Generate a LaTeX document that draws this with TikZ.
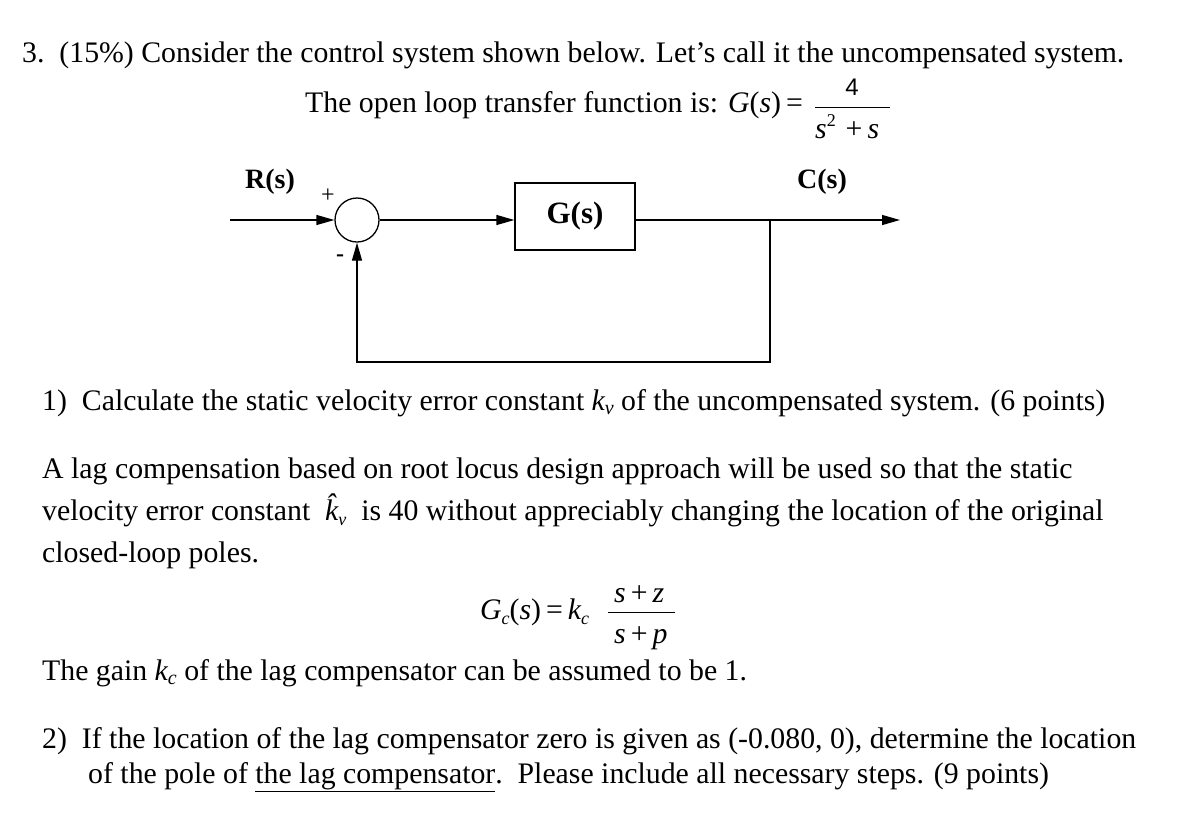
\documentclass[tikz,border=0pt]{standalone}
\usepackage{fontspec}
\setmainfont{Liberation Serif}
\newfontfamily\arialf{Liberation Sans}
\usetikzlibrary{arrows.meta}
\newcommand{\mi}[1]{{\itshape #1}}
\begin{document}
\begin{tikzpicture}[x=1pt,y=-1pt,
  txt/.style={anchor=base west,inner sep=0pt,font=\fontsize{29.8}{34}\selectfont},
  lbl/.style={inner sep=0pt,font=\fontsize{28}{30}\selectfont\bfseries},
  sig/.style={line width=1.3pt},
  arr/.style={sig,-{Triangle[length=18pt,width=10pt]}}]
\useasboundingbox (0,0) rectangle (1193,828);
\node[txt] (t1) at (22,62) {3.\ \ (15\%) Consider the control system shown below. Let’s call it the uncompensated system.};
\node[txt] (t2) at (305,112) {The open loop transfer function is: \mi{G}(\mi{s})\,=};
\node[inner sep=0pt,font=\arialf\fontsize{24}{28}\selectfont] (num) at (852,87) {4};
\draw[line width=0.8pt] (815,107) -- (890,107);
\node[txt] (den) at (815,138) {\mi{s}\raisebox{12pt}{\fontsize{18}{20}\selectfont 2}\,\,+\,\mi{s}};
% block diagram
\node[lbl] (R) at (270,182) {R(s)};
\node[inner sep=0pt,font=\fontsize{24}{26}\selectfont] (plus) at (328,196) {+};
\node[inner sep=0pt,font=\fontsize{24}{26}\selectfont\bfseries] (minus) at (340,258) {-};
\node[circle,draw,line width=1.3pt,minimum size=44pt,inner sep=0pt] (sum) at (357,220) {};
\node[draw,line width=1.3pt,minimum width=120pt,minimum height=67pt,lbl,font=\fontsize{31}{32}\selectfont\bfseries] (G) at (575,216.5) {G(s)};
\node[lbl] (C) at (822,182) {C(s)};
\coordinate (in) at (230,220);
\coordinate (out) at (900,220);
\coordinate (br) at (770,220);
\coordinate (fb1) at (770,362);
\coordinate (fb2) at (357,362);
\draw[arr] (in) -- (sum.west);
\draw[arr] (sum.east) -- (G.west |- sum.east);
\draw[arr] (G.east |- out) -- (out);
\draw[arr] (br) -- (fb1) -- (fb2) -- (sum.south);
% text
\node[txt] (q1) at (42,410) {1)\ \ Calculate the static velocity error constant \mi{k}\raisebox{-4pt}{\fontsize{20}{22}\selectfont\mi{v}} of the uncompensated system. (6 points)};
\node[txt] (p1) at (42,478) {A lag compensation based on root locus design approach will be used so that the static};
\node[txt] (p2) at (42,520) {velocity error constant\ \ \mi{\^{k}}\raisebox{-5pt}{\fontsize{18}{20}\selectfont\mi{v}}\ \ is 40 without appreciably changing the location of the original};
\node[txt] (p3) at (42,562) {closed-loop poles.};
\node[txt] (eq) at (480,619) {\mi{G}\raisebox{-5pt}{\fontsize{18}{20}\selectfont\mi{c}}(\mi{s})\,=\,\mi{k}\raisebox{-5pt}{\fontsize{18}{20}\selectfont\mi{c}}};
\node[txt] (enum) at (614,602) {\mi{s}\,+\,\mi{z}};
\draw[line width=0.8pt] (608,612) -- (675,612);
\node[txt] (eden) at (614,643) {\mi{s}\,+\,\mi{p}};
\node[txt] (g) at (42,680) {The gain \mi{k}\raisebox{-4pt}{\fontsize{20}{22}\selectfont\mi{c}} of the lag compensator can be assumed to be 1.};
\node[txt] (q2a) at (42,748) {2)\ \ If the location of the lag compensator zero is given as (-0.080, 0), determine the location};
\node[txt] (q2b) at (88,783) {of the pole of \underline{the lag compensator}.\ \ Please include all necessary steps. (9 points)};
\end{tikzpicture}
\end{document}
